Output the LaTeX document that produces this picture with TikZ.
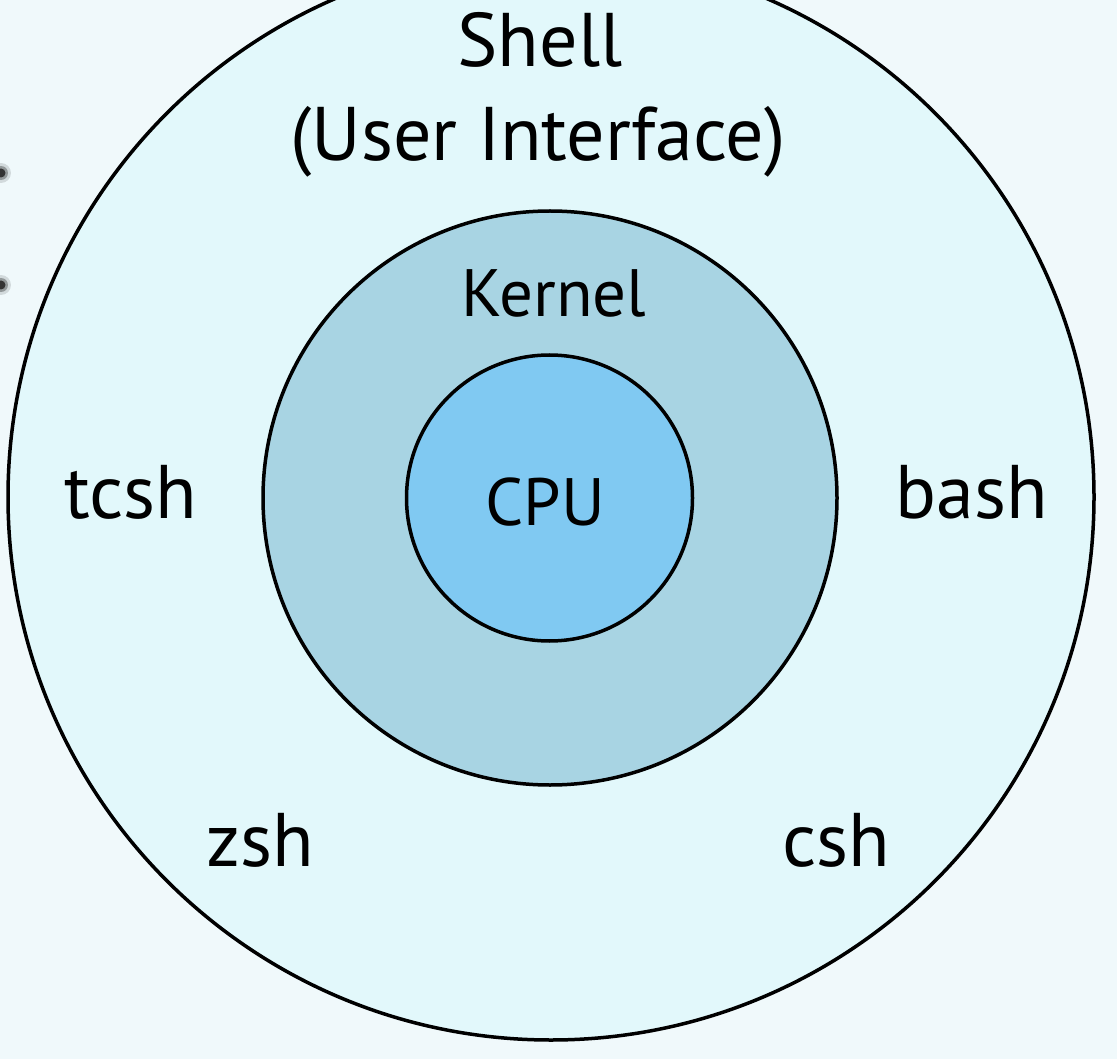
\documentclass[tikz,border=0pt]{standalone}
\usepackage{fontspec}
\setmainfont{PT Sans}
\definecolor{bgc}{HTML}{F0F9FB}
\definecolor{shellc}{HTML}{E2F8FB}
\definecolor{kernc}{HTML}{A8D4E3}
\definecolor{cpuc}{HTML}{80C9F2}
\tikzset{
  ring/.style={draw=black, line width=3.5pt},
  lbl/.style={anchor=base, inner sep=0pt, font=\fontsize{67}{80}\selectfont, text=black},
  biglbl/.style={lbl, font=\fontsize{76}{90}\selectfont},
}
\begin{document}
\begin{tikzpicture}[x=1pt,y=-1pt]
\fill[bgc] (0,0) rectangle (1117,1059);
\useasboundingbox (0,0) rectangle (1117,1059);
\begin{scope}
\clip (0,0) rectangle (1117,1059);
\foreach \yy in {173,285}{
  \fill[black, opacity=0.12] (1,\yy) circle (10);
  \fill[black, opacity=0.3] (1,\yy) circle (7);
  \fill[black!80] (1,\yy) circle (4.5);
}
\node[ring, circle, fill=shellc, minimum size=1086pt, inner sep=0pt] (shell) at (551,497) {};
\node[ring, circle, fill=kernc, minimum size=574pt, inner sep=0pt] (kernel) at (550,498) {};
\node[ring, circle, fill=cpuc, minimum size=286pt, inner sep=0pt] (cpu) at (549.5,498) {};
\end{scope}
\node[biglbl] (tshell) at (540,67) {Shell};
\node[biglbl] (tui) at (538,161) {(User Interface)};
\node[lbl] (tkern) at (554,317) {Kernel};
\node[lbl] (tcpu) at (545,525) {CPU};
\node[biglbl] (ttcsh) at (131,518) {tcsh};
\node[biglbl] (tbash) at (972,518) {bash};
\node[biglbl] (tzsh) at (260,866) {zsh};
\node[biglbl] (tcsh2) at (836,866) {csh};
\end{tikzpicture}
\end{document}
